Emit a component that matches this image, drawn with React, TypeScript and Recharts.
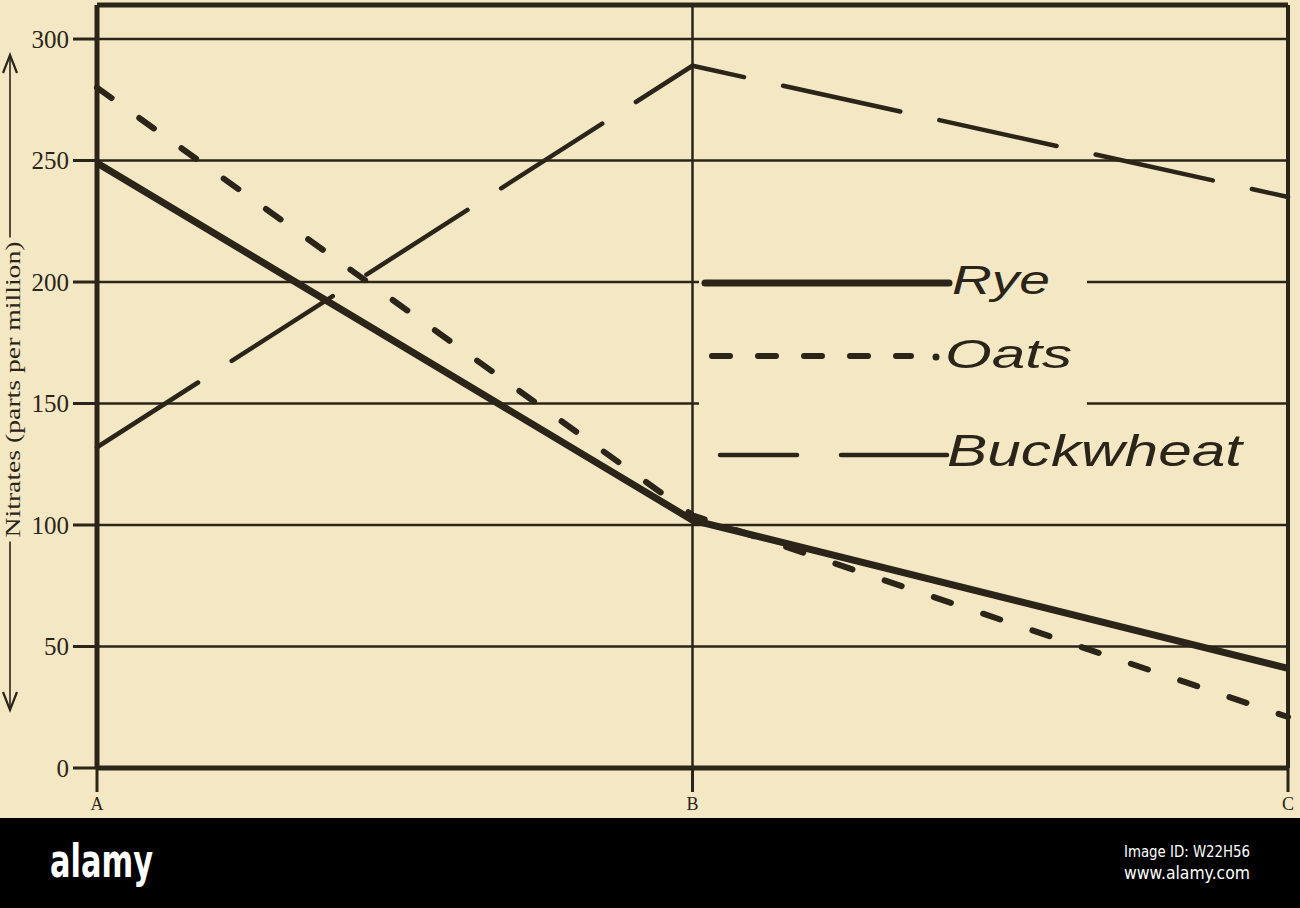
import { LineChart, Line, XAxis, YAxis, CartesianGrid, ReferenceLine, Legend } from 'recharts';

// readings taken off the printed figure (nitrates, parts per million)
const categories = ['A', 'B', 'C'];
const ryeValues = [249, 102, 41];
const oatsValues = [280, 104, 21];
const buckwheatValues = [132, 289, 235];
const yTicks = [0, 50, 100, 150, 200, 250, 300];
const yMax = 314;

const seriesNames = { rye: 'Rye', oats: 'Oats', buckwheat: 'Buckwheat' };

const data = categories.map((pos, i) => ({
  pos,
  rye: ryeValues[i],
  oats: oatsValues[i],
  buckwheat: buckwheatValues[i],
}));

const INK = '#2b2419';
const BG = '#f4e8c4';
const SERIF = '"Liberation Serif", "DejaVu Serif", serif';
const HAND = '"Liberation Sans", "DejaVu Sans", sans-serif';

function YLabel(props: any) {
  const vb = props.viewBox || { x: 0, y: 5, width: 97, height: 763 };
  const cx = 13;
  const lx = 10;
  const cy = vb.y + vb.height / 2 + 3;
  const top = vb.y + 50;
  const bottom = vb.y + vb.height - 58;
  return (
    <g>
      <polyline points={`${lx - 7},${top + 18} ${lx},${top} ${lx + 7},${top + 18}`} fill="none" stroke={INK} strokeWidth={2.2} />
      <line x1={lx} y1={top + 2} x2={lx} y2={cy - 152} stroke={INK} strokeWidth={1.6} />
      <text
        x={cx}
        y={cy}
        transform={`rotate(-90 ${cx} ${cy})`}
        textAnchor="middle"
        dominantBaseline="central"
        fontFamily={SERIF}
        fontSize={21}
        fill={INK}
        textLength={296}
        lengthAdjust="spacingAndGlyphs"
      >
        Nitrates (parts per million)
      </text>
      <line x1={lx} y1={cy + 152} x2={lx} y2={bottom - 2} stroke={INK} strokeWidth={1.6} />
      <polyline points={`${lx - 7},${bottom - 18} ${lx},${bottom} ${lx + 7},${bottom - 18}`} fill="none" stroke={INK} strokeWidth={2.2} />
    </g>
  );
}

function LegendBox({ payload }: any) {
  const keys = (payload || []).map((p: any) => p.dataKey);
  return (
    <svg width={560} height={232} style={{ display: 'block' }}>
      <rect x={0} y={0} width={388} height={232} fill={BG} />
      {keys.includes('rye') && (
        <g>
          <line x1={6} y1={28} x2={250} y2={28} stroke={INK} strokeWidth={7} strokeLinecap="round" />
          <text x={253} y={39} fontFamily={HAND} fontStyle="italic" fontSize={40} fill={INK} textLength={98} lengthAdjust="spacingAndGlyphs">
            {seriesNames.rye}
          </text>
        </g>
      )}
      {keys.includes('oats') && (
        <g>
          <line x1={13} y1={101} x2={212} y2={101} stroke={INK} strokeWidth={6} strokeDasharray="18 28" strokeLinecap="round" />
          <circle cx={237} cy={102} r={3.5} fill={INK} />
          <text x={246} y={113} fontFamily={HAND} fontStyle="italic" fontSize={40} fill={INK} textLength={127} lengthAdjust="spacingAndGlyphs">
            {seriesNames.oats}
          </text>
        </g>
      )}
      {keys.includes('buckwheat') && (
        <g>
          <line x1={21} y1={200} x2={98} y2={200} stroke={INK} strokeWidth={4.5} strokeLinecap="round" />
          <line x1={142} y1={200} x2={248} y2={200} stroke={INK} strokeWidth={4.5} strokeLinecap="round" />
          <text x={248} y={211} fontFamily={HAND} fontStyle="italic" fontSize={45} fill={INK} textLength={295} lengthAdjust="spacingAndGlyphs">
            {seriesNames.buckwheat}
          </text>
        </g>
      )}
    </svg>
  );
}

export default function App() {
  return (
    <div style={{ position: 'absolute', left: 0, top: 0, width: 1300, height: 908, background: BG, overflow: 'hidden' }}>
      <LineChart width={1300} height={818} data={data} margin={{ top: 5, right: 12, bottom: 0, left: 0 }}>
        <CartesianGrid stroke={INK} strokeWidth={2.5} />
        <XAxis
          dataKey="pos"
          height={50}
          interval={0}
          tickSize={24}
          tickMargin={5}
          axisLine={{ stroke: INK, strokeWidth: 5 }}
          tickLine={{ stroke: INK, strokeWidth: 3 }}
          tick={{ fill: INK, fontSize: 18, fontFamily: SERIF }}
        />
        <YAxis
          domain={[0, yMax]}
          ticks={yTicks}
          width={97}
          tickSize={24}
          tickMargin={4}
          axisLine={{ stroke: INK, strokeWidth: 5 }}
          tickLine={{ stroke: INK, strokeWidth: 3 }}
          tick={{ fill: INK, fontSize: 25, fontFamily: SERIF }}
          label={{ content: (p: any) => <YLabel {...p} /> }}
        />
        <ReferenceLine y={yMax} stroke={INK} strokeWidth={5} />
        <ReferenceLine x="C" stroke={INK} strokeWidth={4} />
        <Line dataKey="rye" name={seriesNames.rye} stroke={INK} strokeWidth={7} dot={false} isAnimationActive={false} />
        <Line
          dataKey="oats"
          name={seriesNames.oats}
          stroke={INK}
          strokeWidth={6}
          strokeDasharray="18 34"
          strokeLinecap="round"
          dot={false}
          isAnimationActive={false}
        />
        <Line
          dataKey="buckwheat"
          name={seriesNames.buckwheat}
          stroke={INK}
          strokeWidth={4.5}
          strokeDasharray="120 40"
          strokeLinecap="round"
          dot={false}
          isAnimationActive={false}
        />
        <Legend
          layout="vertical"
          align="center"
          verticalAlign="middle"
          content={(p: any) => <LegendBox {...p} />}
          wrapperStyle={{ position: 'absolute', left: 699, top: 255, width: 560, height: 232 }}
        />
      </LineChart>
      <svg width={1300} height={90} style={{ position: 'absolute', left: 0, top: 818 }}>
        <rect x={0} y={0} width={1300} height={90} fill="#000" />
        <text x={50} y={59} fill="#fff" fontFamily='"DejaVu Sans", sans-serif' fontWeight="bold" fontSize={46} textLength={103} lengthAdjust="spacingAndGlyphs">
          alamy
        </text>
        <text x={1250} y={39} textAnchor="end" fill="#fff" fontFamily='"DejaVu Sans", sans-serif' fontSize={15} textLength={126} lengthAdjust="spacingAndGlyphs">
          Image ID: W22H56
        </text>
        <text x={1250} y={61} textAnchor="end" fill="#fff" fontFamily='"DejaVu Sans", sans-serif' fontSize={18} textLength={126} lengthAdjust="spacingAndGlyphs">
          www.alamy.com
        </text>
      </svg>
    </div>
  );
}
